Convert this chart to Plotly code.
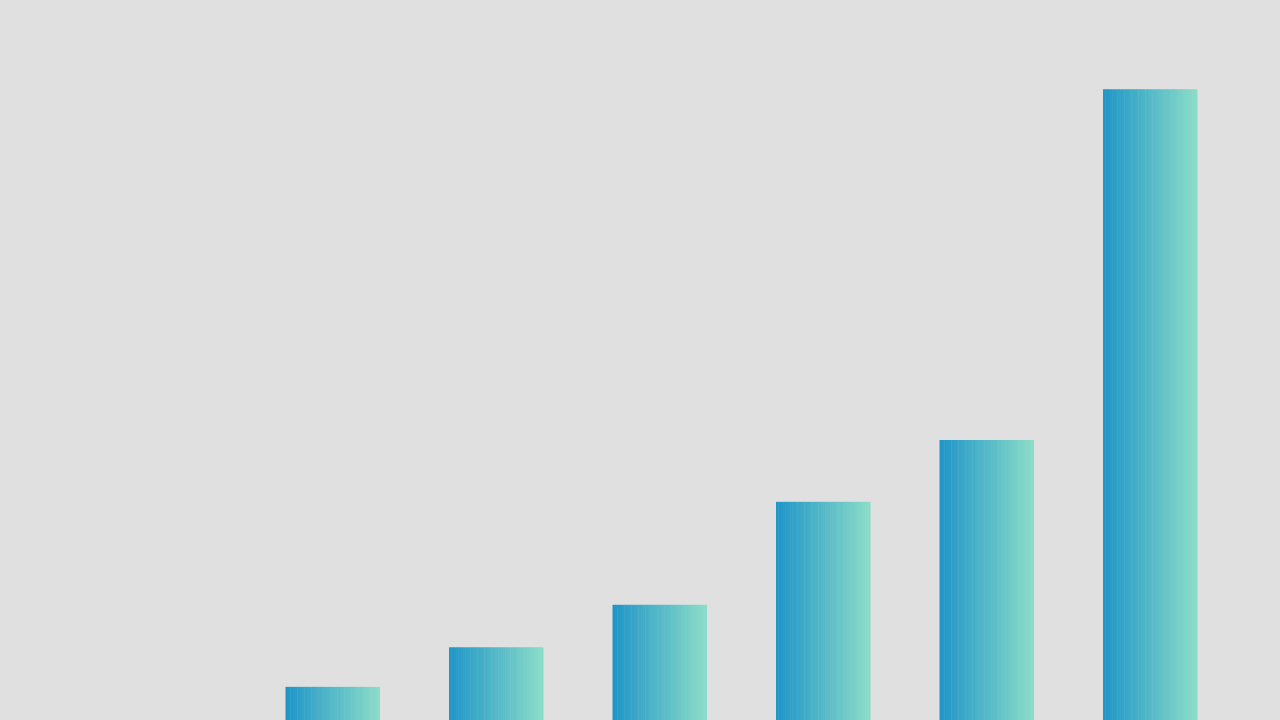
import plotly.graph_objects as go

categories = ["1", "2", "3", "4", "5", "6"]
values = [4.6, 10.1, 16.0, 30.3, 38.9, 87.6]

left_rgb = (32, 150, 200)
right_rgb = (138, 220, 200)
n_slices = 40
bar_width = 0.575

fig = go.Figure()
for k in range(n_slices):
    t = k / (n_slices - 1)
    r = round(left_rgb[0] + (right_rgb[0] - left_rgb[0]) * t)
    g = round(left_rgb[1] + (right_rgb[1] - left_rgb[1]) * t)
    b = round(left_rgb[2] + (right_rgb[2] - left_rgb[2]) * t)
    fig.add_trace(go.Bar(
        x=categories,
        y=values,
        offset=-bar_width / 2 + k * bar_width / n_slices,
        width=bar_width / n_slices * 1.2,
        marker=dict(color=f"rgb({r},{g},{b})", line=dict(width=0)),
        showlegend=False,
        hoverinfo="skip",
    ))

fig.update_layout(
    width=1280, height=720,
    margin=dict(l=0, r=0, t=0, b=0),
    paper_bgcolor="#e0e0e0",
    plot_bgcolor="#e0e0e0",
    barmode="overlay",
    showlegend=False,
    xaxis=dict(visible=False, range=[-2.0336, 5.795]),
    yaxis=dict(visible=False, range=[0, 100]),
)
fig.write_html(
    "out.html",
    config={"displayModeBar": False},
    post_script="document.body.style.margin='0';document.body.style.overflow='hidden';document.body.style.background='#e0e0e0';",
)
